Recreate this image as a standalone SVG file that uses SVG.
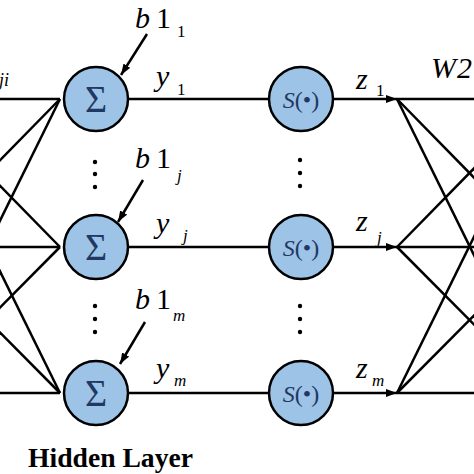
<svg xmlns="http://www.w3.org/2000/svg" width="474" height="474" viewBox="0 0 474 474">
<style>
.ln{stroke:#000;stroke-width:2.5;fill:none}
.sum{fill:#9DC3E6;stroke:#000;stroke-width:2.5}
.sym{font-family:"Liberation Serif",serif;fill:#1F3864;text-anchor:middle}
.it{font-family:"Liberation Serif",serif;font-style:italic;fill:#000}
.rm{font-family:"Liberation Serif",serif;fill:#000}
.dot{fill:#000}
</style>
<defs>
<marker id="ah" markerUnits="userSpaceOnUse" markerWidth="12" markerHeight="10" refX="11" refY="4" orient="auto">
<path d="M0,0 L11,4 L0,8 z" fill="#000"/>
</marker>
</defs>
<rect width="474" height="474" fill="#fff"/>
<g id="connectors">
<line class="ln" x1="-85" y1="99" x2="60" y2="99"/>
<line class="ln" x1="-85" y1="247" x2="60" y2="99"/>
<line class="ln" x1="-85" y1="393" x2="60" y2="99"/>
<line class="ln" x1="-85" y1="99" x2="60" y2="247"/>
<line class="ln" x1="-85" y1="247" x2="60" y2="247"/>
<line class="ln" x1="-85" y1="393" x2="60" y2="247"/>
<line class="ln" x1="-85" y1="99" x2="60" y2="393"/>
<line class="ln" x1="-85" y1="247" x2="60" y2="393"/>
<line class="ln" x1="-85" y1="393" x2="60" y2="393"/>
<line class="ln" x1="128" y1="99" x2="269" y2="99"/>
<line class="ln" x1="128" y1="247" x2="269" y2="247"/>
<line class="ln" x1="128" y1="393" x2="269" y2="393"/>
<line class="ln" x1="333" y1="99" x2="397" y2="99" marker-end="url(#ah)"/>
<line class="ln" x1="333" y1="247" x2="397" y2="247" marker-end="url(#ah)"/>
<line class="ln" x1="333" y1="393" x2="397" y2="393" marker-end="url(#ah)"/>
<line class="ln" x1="397" y1="99" x2="542" y2="99"/>
<line class="ln" x1="397" y1="99" x2="542" y2="247"/>
<line class="ln" x1="397" y1="99" x2="542" y2="393"/>
<line class="ln" x1="397" y1="247" x2="542" y2="99"/>
<line class="ln" x1="397" y1="247" x2="542" y2="247"/>
<line class="ln" x1="397" y1="247" x2="542" y2="393"/>
<line class="ln" x1="397" y1="393" x2="542" y2="99"/>
<line class="ln" x1="397" y1="393" x2="542" y2="247"/>
<line class="ln" x1="397" y1="393" x2="542" y2="393"/>
<line class="ln" x1="147" y1="34" x2="121" y2="75" marker-end="url(#ah)"/>
<line class="ln" x1="143" y1="180" x2="118" y2="222" marker-end="url(#ah)"/>
<line class="ln" x1="145" y1="322" x2="120" y2="364" marker-end="url(#ah)"/>
</g>
<g id="sum1"><circle class="sum" cx="96" cy="99" r="32"/><text class="sym" x="96" y="112" font-size="38">Σ</text></g>
<g id="sumj"><circle class="sum" cx="96" cy="247" r="32"/><text class="sym" x="96" y="260" font-size="38">Σ</text></g>
<g id="summ"><circle class="sum" cx="96" cy="393" r="32"/><text class="sym" x="96" y="406" font-size="38">Σ</text></g>
<g id="s1"><circle class="sum" cx="301" cy="99" r="32"/><text class="sym" x="301" y="108" font-size="24"><tspan font-style="italic">S</tspan>(•)</text></g>
<g id="sj"><circle class="sum" cx="301" cy="247" r="32"/><text class="sym" x="301" y="256" font-size="24"><tspan font-style="italic">S</tspan>(•)</text></g>
<g id="sm"><circle class="sum" cx="301" cy="393" r="32"/><text class="sym" x="301" y="402" font-size="24"><tspan font-style="italic">S</tspan>(•)</text></g>
<g id="labels">
<text class="it" x="-1" y="86" font-size="18">ji</text>
<text class="it" x="135" y="28" font-size="30">b</text><text class="rm" x="156" y="28" font-size="30">1</text><text class="rm" x="177" y="37" font-size="17">1</text>
<text class="it" x="135" y="168" font-size="30">b</text><text class="rm" x="156" y="168" font-size="30">1</text><text class="it" x="177" y="181" font-size="17">j</text>
<text class="it" x="135" y="309" font-size="30">b</text><text class="rm" x="156" y="309" font-size="30">1</text><text class="it" x="173" y="321" font-size="17">m</text>
<text class="it" x="156" y="86" font-size="30">y</text><text class="rm" x="177" y="95" font-size="17">1</text>
<text class="it" x="156" y="233" font-size="30">y</text><text class="it" x="183" y="241" font-size="17">j</text>
<text class="it" x="156" y="378" font-size="30">y</text><text class="it" x="174" y="386" font-size="17">m</text>
<text class="it" x="356" y="89" font-size="30">z</text><text class="rm" x="376" y="96" font-size="17">1</text>
<text class="it" x="356" y="231" font-size="30">z</text><text class="it" x="377" y="243" font-size="17">j</text>
<text class="it" x="356" y="378" font-size="30">z</text><text class="it" x="372" y="386" font-size="17">m</text>
<text class="it" x="431" y="78" font-size="30">W</text><text class="it" x="457" y="78" font-size="30">2</text>
<text x="28" y="467" font-family="Liberation Serif, serif" font-weight="bold" font-size="27" textLength="165" lengthAdjust="spacingAndGlyphs">Hidden Layer</text>
</g>
<g id="dots">
<circle class="dot" cx="95" cy="162" r="2.2"/><circle class="dot" cx="95" cy="174" r="2.2"/><circle class="dot" cx="95" cy="187" r="2.2"/>
<circle class="dot" cx="95" cy="306" r="2.2"/><circle class="dot" cx="95" cy="319" r="2.2"/><circle class="dot" cx="95" cy="332" r="2.2"/>
<circle class="dot" cx="300" cy="160" r="2.2"/><circle class="dot" cx="300" cy="173" r="2.2"/><circle class="dot" cx="300" cy="186" r="2.2"/>
<circle class="dot" cx="300" cy="306" r="2.2"/><circle class="dot" cx="300" cy="319" r="2.2"/><circle class="dot" cx="300" cy="332" r="2.2"/>
</g>
</svg>
